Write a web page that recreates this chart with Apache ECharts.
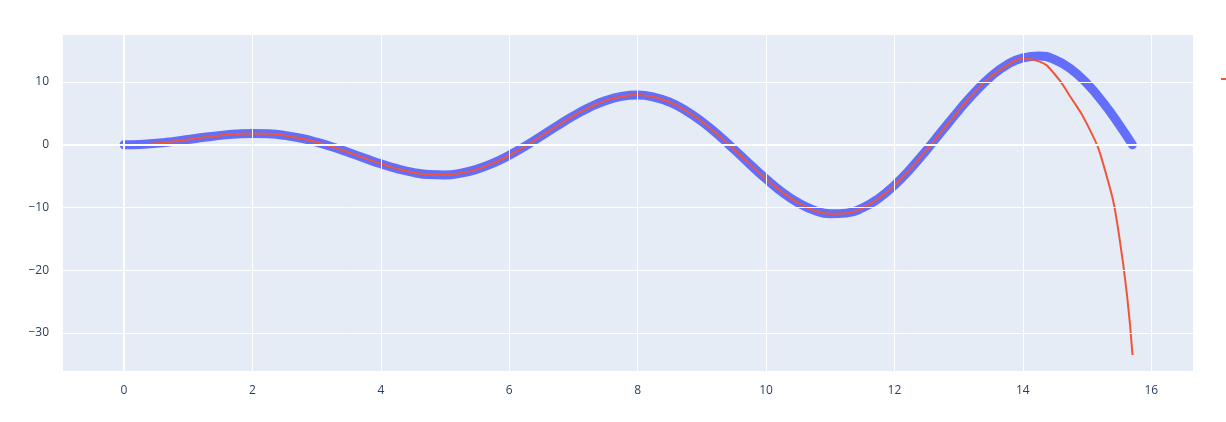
<!DOCTYPE html>
<html>
<head>
<meta charset="utf-8">
<script src="https://cdn.jsdelivr.net/npm/echarts@6/dist/echarts.min.js"></script>
<style>html,body{margin:0;padding:0;background:#fff}#chart{width:1226px;height:422px}</style>
</head>
<body>
<div id="chart"></div>
<script>
// values
const xs = [0, 0.25, 0.5, 0.75, 1, 1.25, 1.5, 1.75, 2, 2.25, 2.5, 2.75, 3, 3.25, 3.5, 3.75, 4, 4.25, 4.5, 4.75,
  5, 5.25, 5.5, 5.75, 6, 6.25, 6.5, 6.75, 7, 7.25, 7.5, 7.75, 8, 8.25, 8.5, 8.75, 9, 9.25, 9.5, 9.75,
  10, 10.25, 10.5, 10.75, 11, 11.25, 11.5, 11.75, 12, 12.25, 12.5, 12.75, 13, 13.25, 13.5, 13.75, 14,
  14.25, 14.5, 14.75, 15, 15.25, 15.5, 15.708];
const blueY = [0, 0.06, 0.24, 0.51, 0.84, 1.19, 1.5, 1.72, 1.82, 1.75, 1.5, 1.05, 0.42, -0.35, -1.23, -2.14, -3.03, -3.8, -4.4, -4.75,
  -4.8, -4.51, -3.88, -2.92, -1.68, -0.21, 1.4, 3.04, 4.6, 5.97, 7.04, 7.71, 7.92, 7.61, 6.79, 5.46, 3.71, 1.61, -0.71, -3.12,
  -5.44, -7.53, -9.24, -10.43, -11.0, -10.89, -10.07, -8.57, -6.44, -3.81, -0.83, 2.33, 5.46, 8.37, 10.85, 12.73, 13.87,
  14.16, 13.56, 12.07, 9.75, 6.74, 3.2, 0];
const redY = [0, 0.06, 0.24, 0.51, 0.84, 1.19, 1.5, 1.72, 1.82, 1.75, 1.5, 1.05, 0.42, -0.35, -1.23, -2.14, -3.03, -3.8, -4.4, -4.75,
  -4.8, -4.51, -3.88, -2.92, -1.68, -0.21, 1.4, 3.04, 4.6, 5.97, 7.04, 7.71, 7.92, 7.61, 6.79, 5.46, 3.71, 1.61, -0.71, -3.12,
  -5.44, -7.53, -9.24, -10.43, -11.0, -10.89, -10.07, -8.57, -6.44, -3.81, -0.83, 2.33, 5.46, 8.37, 10.85, 12.6, 13.7,
  13.3, 11.2, 7.5, 3.3, -3.0, -14.5, -33.5];
const xTicks = [0, 2, 4, 6, 8, 10, 12, 14, 16];
const yTicks = [-30, -20, -10, 0, 10];

const pairs = (ys) => xs.map((x, i) => [x, ys[i]]);
const minus = v => String(v).replace('-', '\u2212');
const gridLines = xTicks.map(v => ({xAxis: v, lineStyle: {width: v === 0 ? 2 : 1}}))
  .concat(yTicks.map(v => ({yAxis: v, lineStyle: {width: v === 0 ? 2 : 1}})));

const chart = echarts.init(document.getElementById('chart'));
chart.setOption({
  animation: false,
  textStyle: {fontFamily: 'Open Sans'},
  grid: {left: 63, right: 33, top: 35, bottom: 51, show: true, backgroundColor: '#e5ecf6', borderWidth: 0},
  legend: {
    left: 1216, top: 68, itemWidth: 30, itemHeight: 2,
    data: [{name: 'fit', icon: 'rect'}],
    textStyle: {color: '#2a3f5f', fontSize: 12}
  },
  xAxis: {
    type: 'value', min: -0.95, max: 16.65,
    axisLine: {show: false}, axisTick: {show: false}, splitLine: {show: false},
    axisLabel: {customValues: xTicks, color: '#2a3f5f', fontSize: 12, margin: 14, formatter: minus}
  },
  yAxis: {
    type: 'value', min: -36.05, max: 17.5,
    axisLine: {show: false}, axisTick: {show: false}, splitLine: {show: false},
    axisLabel: {customValues: yTicks, color: '#2a3f5f', fontSize: 12, margin: 14, formatter: minus}
  },
  series: [
    {
      type: 'line', name: 'grid', data: [], silent: true, z: 1,
      markLine: {silent: true, symbol: 'none', label: {show: false},
        lineStyle: {color: '#ffffff', type: 'solid'}, data: gridLines}
    },
    {
      type: 'line', name: 'data', data: pairs(blueY), smooth: true, z: 3,
      showSymbol: false, lineStyle: {color: '#636efa', width: 9, cap: 'round'}
    },
    {
      type: 'line', name: 'fit', data: pairs(redY), smooth: true, z: 4,
      showSymbol: false, color: '#EF553B', lineStyle: {color: '#EF553B', width: 2}
    }
  ]
});
</script>
</body>
</html>
